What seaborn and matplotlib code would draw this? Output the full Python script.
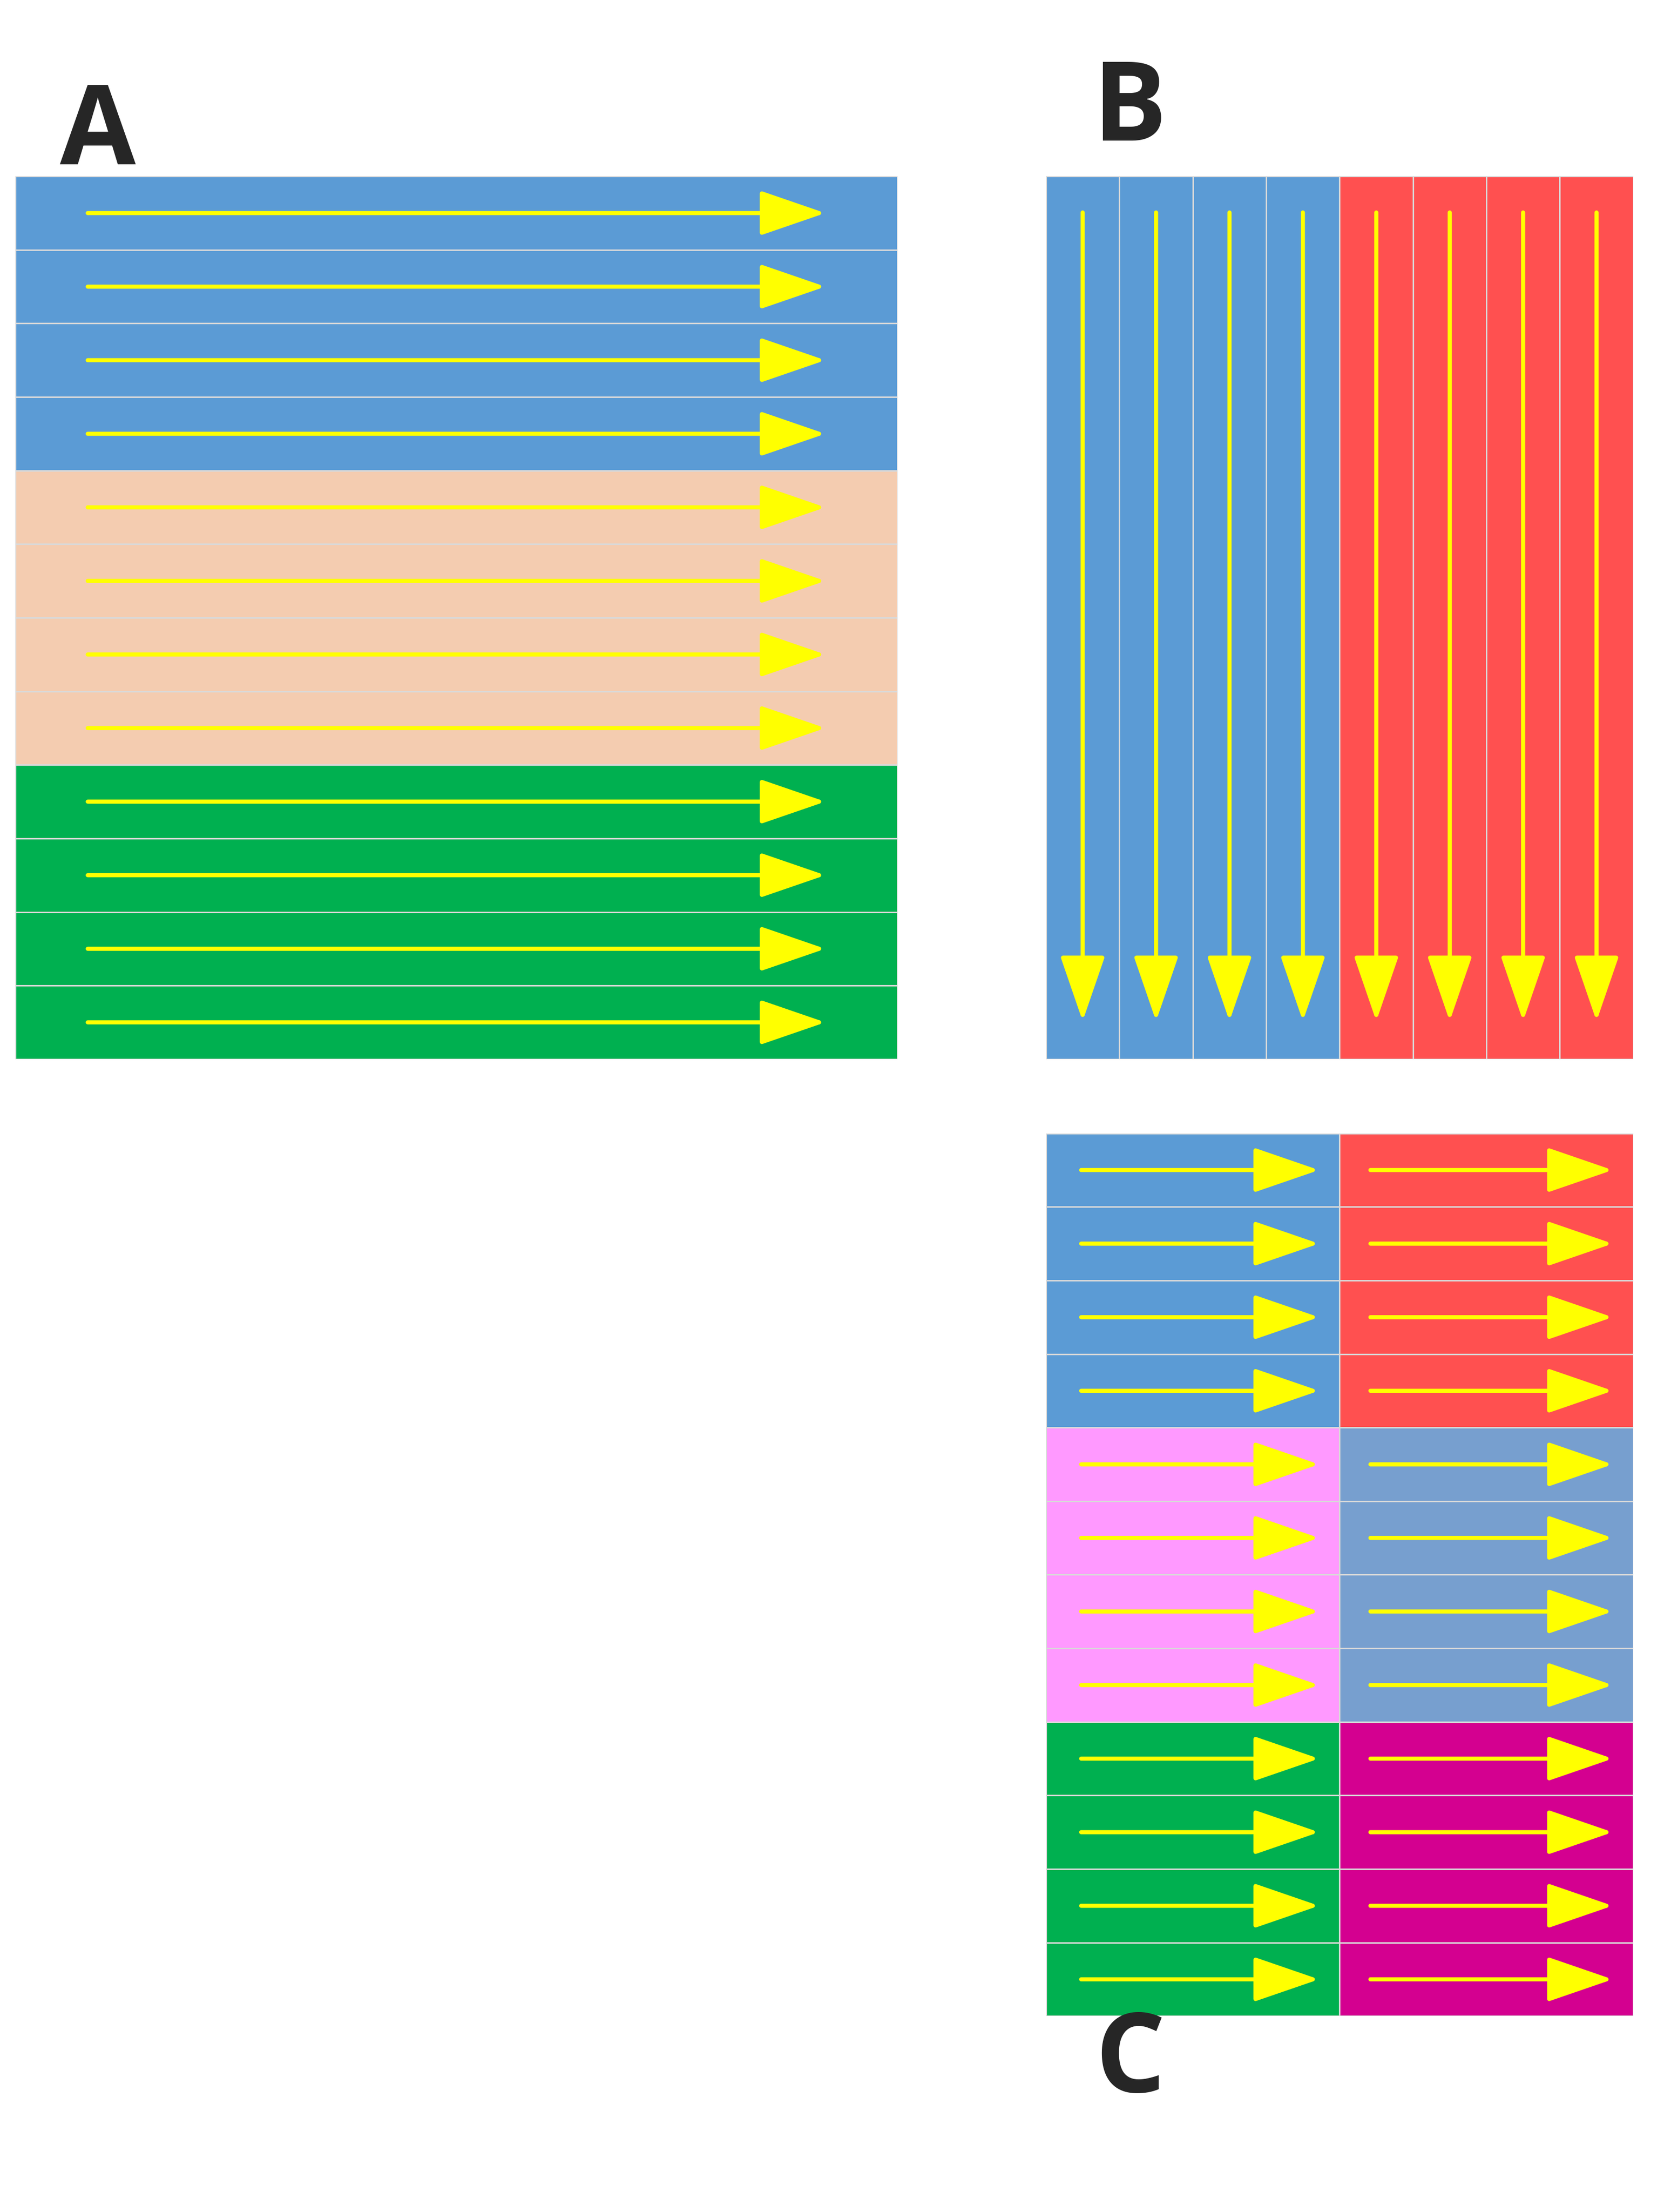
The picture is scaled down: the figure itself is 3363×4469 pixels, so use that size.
import numpy as np
import matplotlib
matplotlib.use("Agg")
import matplotlib.pyplot as plt
from matplotlib.colors import ListedColormap
import seaborn as sns

# ---- data ----
a_colors = ["#5B9BD5", "#F4CCB0", "#00B050"]
a_groups = [0, 0, 0, 0, 1, 1, 1, 1, 2, 2, 2, 2]
b_colors = ["#5B9BD5", "#FF5050"]
b_groups = [0, 0, 0, 0, 1, 1, 1, 1]
c_colors = ["#5B9BD5", "#FF5050", "#FF99FF", "#779FCF", "#00B050", "#D40090"]
c_left = [0, 0, 0, 0, 2, 2, 2, 2, 4, 4, 4, 4]
c_right = [1, 1, 1, 1, 3, 3, 3, 3, 5, 5, 5, 5]
labels = ["A", "B", "C"]

sns.set_theme(style="white")
plt.rcParams['font.family'] = ['Open Sans', 'DejaVu Sans']

fig = plt.figure(figsize=(33.63, 44.69), dpi=100)
W, H = 1190, 1581
def box(l, t, r, b):
    return [l / W, 1 - b / H, (r - l) / W, (b - t) / H]

axA = fig.add_axes(box(11, 126, 642, 757))
axB = fig.add_axes(box(748, 126, 1168, 757))
axC = fig.add_axes(box(748, 810, 1168, 1441))

arrow = dict(arrowstyle="-|>,head_length=3.2,head_width=1.1", color="#FFFF00",
             lw=6, mutation_scale=26, shrinkA=0, shrinkB=0)
grid = dict(linewidths=2, linecolor="#d9d9d9", cbar=False, xticklabels=False, yticklabels=False)

def draw(ax, mat, colors, **kw):
    sns.heatmap(np.array(mat), ax=ax, cmap=ListedColormap(colors),
                vmin=-0.5, vmax=len(colors) - 0.5, **grid)

# Panel A
draw(axA, np.array(a_groups)[:, None], a_colors)
for i in range(len(a_groups)):
    axA.annotate("", xy=(0.918, i + 0.5), xytext=(0.082, i + 0.5), arrowprops=arrow)

# Panel B
draw(axB, np.array(b_groups)[None, :], b_colors)
for j in range(len(b_groups)):
    axB.annotate("", xy=(j + 0.5, 0.957), xytext=(j + 0.5, 0.041), arrowprops=arrow)

# Panel C
draw(axC, np.array([c_left, c_right]).T, c_colors)
for i in range(len(c_left)):
    axC.annotate("", xy=(0.93, i + 0.5), xytext=(0.12, i + 0.5), arrowprops=arrow)
    axC.annotate("", xy=(1.93, i + 0.5), xytext=(1.105, i + 0.5), arrowprops=arrow)

for ax in (axA, axB, axC):
    for s in ax.spines.values():
        s.set_visible(False)

fs = 160
fig.text(70 / W, 1 - 97 / H, labels[0], fontsize=fs, fontweight="bold", ha="center", va="center")
fig.text(808 / W, 1 - 80 / H, labels[1], fontsize=fs, fontweight="bold", ha="center", va="center")
fig.text(808 / W, 1 - 1475 / H, labels[2], fontsize=fs, fontweight="bold", ha="center", va="center")

fig.savefig("out.png", dpi=100, facecolor="white")
